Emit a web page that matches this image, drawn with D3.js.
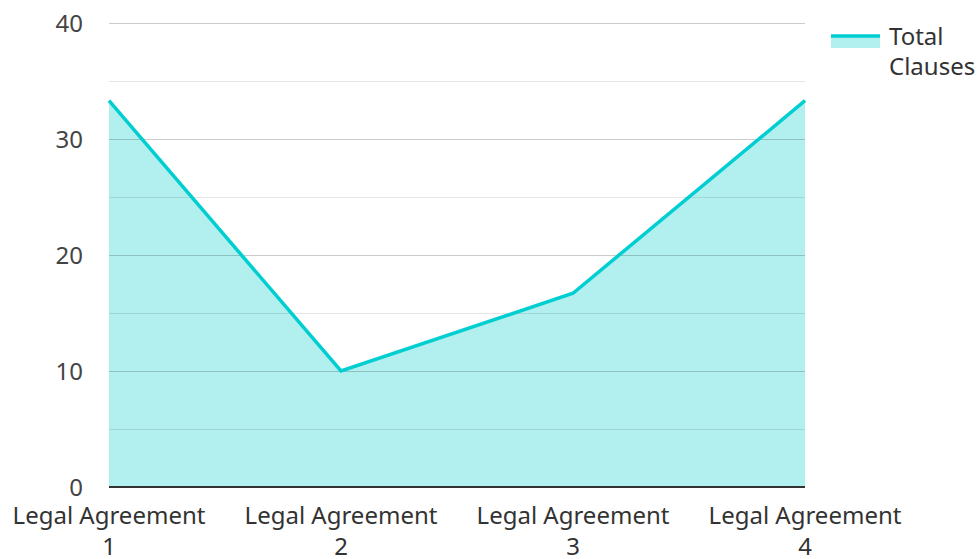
<!DOCTYPE html>
<html><head><meta charset="utf-8">
<script src="https://cdn.jsdelivr.net/npm/d3@7"></script>
<style>body{margin:0;background:#fff}svg{display:block;font-family:"Noto Sans",sans-serif}</style>
</head><body><svg id="c" width="978" height="559"></svg>
<script>
const categories = ["Legal Agreement 1","Legal Agreement 2","Legal Agreement 3","Legal Agreement 4"];
const values = [33.3, 10, 16.7, 33.3];
const seriesName = "Total Clauses";
const majorTicks = [0,10,20,30,40];
const minorTicks = [5,15,25,35];

const svg = d3.select("#c");
const x = d3.scalePoint().domain(categories).range([109,805]);
const y = d3.scaleLinear().domain([0,40]).range([487,23]);
const lineColor = "#00CED1", fillColor = "#b2f0f0";

svg.append("path").datum(values)
  .attr("d", d3.area().x((d,i)=>x(categories[i])).y0(y(0)).y1(d=>y(d)))
  .attr("fill", fillColor);

svg.append("g").selectAll("line").data(minorTicks).join("line")
  .attr("x1",109).attr("x2",805).attr("y1",d=>y(d)+0.5).attr("y2",d=>y(d)+0.5)
  .attr("stroke","#000").attr("stroke-opacity",0.1).attr("stroke-width",1);
svg.append("g").selectAll("line").data(majorTicks.filter(d=>d>0)).join("line")
  .attr("x1",109).attr("x2",805).attr("y1",d=>y(d)+0.5).attr("y2",d=>y(d)+0.5)
  .attr("stroke","#000").attr("stroke-opacity",0.2).attr("stroke-width",1);

svg.append("path").datum(values)
  .attr("d", d3.line().x((d,i)=>x(categories[i])).y(d=>y(d)))
  .attr("fill","none").attr("stroke",lineColor).attr("stroke-width",3.5).attr("stroke-linejoin","miter");

svg.append("line").attr("x1",109).attr("x2",805).attr("y1",y(0)).attr("y2",y(0))
  .attr("stroke","#333").attr("stroke-width",2);

svg.append("g").selectAll("text").data(majorTicks).join("text")
  .attr("x",83).attr("y",d=>y(d)+9).attr("text-anchor","end")
  .attr("font-size",24).attr("fill","#444").text(d=>d);

const xl = svg.append("g").selectAll("text").data(categories).join("text")
  .attr("text-anchor","middle").attr("font-size",24).attr("fill","#333");
xl.each(function(d){
  const parts = d.match(/^(.*) (\S+)$/);
  const t = d3.select(this);
  t.append("tspan").attr("x",x(d)).attr("y",524).text(parts[1]);
  t.append("tspan").attr("x",x(d)).attr("y",555).text(parts[2]);
});

const lg = svg.append("g");
lg.append("rect").attr("x",831).attr("y",35).attr("width",49).attr("height",13).attr("fill",fillColor);
lg.append("line").attr("x1",831).attr("x2",880).attr("y1",36).attr("y2",36).attr("stroke",lineColor).attr("stroke-width",3.5);
const lt = lg.append("text").attr("font-size",24).attr("fill","#333");
seriesName.split(" ").forEach((w,i)=>lt.append("tspan").attr("x",889).attr("y",45+i*30).text(w));
</script></body></html>
